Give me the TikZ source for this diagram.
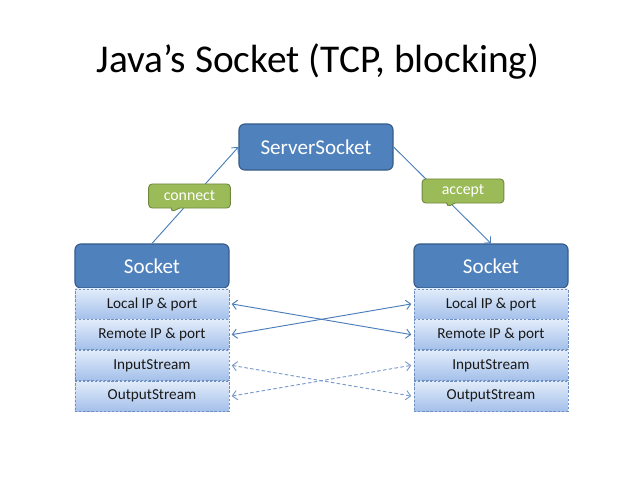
\documentclass[tikz,border=0pt]{standalone}
\usepackage{fontspec}
\setmainfont{Carlito}
\usepackage{xcolor}
\usetikzlibrary{arrows.meta,shapes,calc,positioning}
\definecolor{sockblue}{HTML}{4F81BD}
\definecolor{sockedge}{HTML}{385D8A}
\definecolor{tagfill}{HTML}{9BBB59}
\definecolor{tagedge}{HTML}{71893F}
\definecolor{rowtop}{HTML}{E2ECFA}
\definecolor{rowbot}{HTML}{A4C0EA}
\definecolor{rowedge}{HTML}{6F8FC0}
\definecolor{linkblue}{HTML}{4A7EBB}
\definecolor{streamblue}{HTML}{7A9ACB}

\begin{document}
\begin{tikzpicture}[x=0.03cm, y=-0.03cm]
		\tikzstyle{every node}=[font=\large]
		\tikzstyle{sockbox}=[draw=sockedge, line width=1pt, fill=sockblue, rounded corners=5pt, minimum width=4.62cm, minimum height=1.32cm, text=white, font=\fontsize{18}{20}\selectfont]
		\tikzstyle{rowbox}=[draw=rowedge, line width=0.6pt, dash pattern=on 2pt off 1.5pt, top color=rowtop, bottom color=rowbot, minimum width=4.62cm, minimum height=0.9cm, text=black!90, font=\fontsize{13}{15}\selectfont]
		\tikzstyle{tag}=[rectangle callout, draw=tagedge, line width=0.8pt, fill=tagfill, rounded corners=3pt, minimum width=2.45cm, minimum height=0.72cm, text=white, font=\fontsize{13.5}{15}\selectfont]
		\tikzstyle{link}=[line width=0.8pt, draw=linkblue]
		\tikzstyle{stream}=[line width=0.8pt, draw=streamblue, dash pattern=on 3pt off 2pt]
		\useasboundingbox (0,0) rectangle (638,478);
		\node [anchor=base, font=\fontsize{33.6}{38}\selectfont] (title) at (318,72) {Java’s Socket (TCP, blocking)};
		% sockets
		\node [sockbox, minimum height=1.38cm] (server) at (316,147) {ServerSocket};
		\node [sockbox] (lsock) at (152,266) {Socket};
		\node [sockbox] (rsock) at (491,266) {Socket};
		\node [rowbox, below=0pt of lsock] (lloc) {Local IP \& port};
		\node [rowbox, below=0pt of lloc] (lrem) {Remote IP \& port};
		\node [rowbox, below=0pt of lrem] (lin) {InputStream};
		\node [rowbox, below=0pt of lin] (lout) {OutputStream};
		\node [rowbox, below=0pt of rsock] (rloc) {Local IP \& port};
		\node [rowbox, below=0pt of rloc] (rrem) {Remote IP \& port};
		\node [rowbox, below=0pt of rrem] (rin) {InputStream};
		\node [rowbox, below=0pt of rin] (rout) {OutputStream};
		% connect / accept
		\draw [link, -{Straight Barb[length=4pt, width=8pt]}] (lsock.north) -- (server.west);
		\draw [link, -{Straight Barb[length=4pt, width=8pt]}] (server.east) -- (rsock.north);
		\node [tag, callout absolute pointer={(171,212)}] (connect) at (189.5,196) {connect};
		\node [tag, callout absolute pointer={(447,207)}] (accept) at (463,191) {accept};
		% crossed links
		\draw [link, {Straight Barb[length=4pt, width=8pt]}-{Straight Barb[length=4pt, width=8pt]}] ([xshift=2pt]lloc.east) -- ([xshift=-2pt]rrem.west);
		\draw [link, {Straight Barb[length=4pt, width=8pt]}-{Straight Barb[length=4pt, width=8pt]}] ([xshift=2pt]lrem.east) -- ([xshift=-2pt]rloc.west);
		\draw [stream, {Straight Barb[length=4pt, width=8pt]}-{Straight Barb[length=4pt, width=8pt]}] ([xshift=2pt]lin.east) -- ([xshift=-2pt]rout.west);
		\draw [stream, {Straight Barb[length=4pt, width=8pt]}-{Straight Barb[length=4pt, width=8pt]}] ([xshift=2pt]lout.east) -- ([xshift=-2pt]rin.west);
\end{tikzpicture}
\end{document}
